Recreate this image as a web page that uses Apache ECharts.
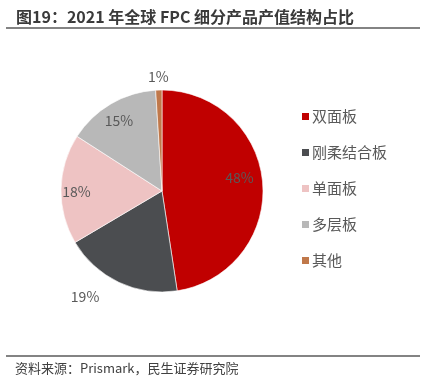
<!DOCTYPE html>
<html>
<head>
<meta charset="utf-8">
<script src="https://cdn.jsdelivr.net/npm/echarts@6/dist/echarts.min.js"></script>
<style>
html,body{margin:0;padding:0;background:#fff;}
#main{width:431px;height:384px;}
</style>
</head>
<body>
<div id="main"></div>
<script>
const titleText = '图19：2021 年全球 FPC 细分产品产值结构占比';
const sourceText = '资料来源：Prismark，民生证券研究院';
const categories = ['双面板', '刚柔结合板', '单面板', '多层板', '其他'];
const values = [47.6, 18.9, 17.6, 14.9, 1.0];
const colors = ['#C00000', '#4B4D50', '#EEC3C3', '#B8B8B8', '#C0784A'];
const labelOffsets = [[24, -9], [-54, 57], [-32, 2], [-16, -24], [-2, -61]];

const FONT = '"Noto Sans CJK SC", "Open Sans", sans-serif';
const chart = echarts.init(document.getElementById('main'), null, {renderer: 'canvas'});
const data = categories.map((c, i) => ({
  name: c,
  value: values[i],
  itemStyle: {color: colors[i]},
  label: {offset: labelOffsets[i]}
}));
chart.setOption({
  animation: false,
  backgroundColor: '#fff',
  title: {
    text: titleText,
    left: 11, top: 4,
    textStyle: {fontFamily: FONT, fontSize: 16, fontWeight: 'bold', color: '#3a3a3a'}
  },
  legend: {
    orient: 'vertical',
    left: 295, top: 104,
    icon: 'rect',
    itemWidth: 9, itemHeight: 9,
    itemGap: 21,
    textStyle: {fontFamily: FONT, fontSize: 15, color: '#595959', padding: [0, 0, 0, -3]},
    data: categories
  },
  graphic: [
    {type: 'line', shape: {x1: 6, y1: 28, x2: 420, y2: 28}, style: {stroke: '#5a5a5a', lineWidth: 1.5}},
    {type: 'line', shape: {x1: 6, y1: 356, x2: 420, y2: 356}, style: {stroke: '#5a5a5a', lineWidth: 1.5}},
    {type: 'text', left: 15, top: 362, style: {text: sourceText, font: '13px ' + FONT, fill: '#404040'}}
  ],
  series: [{
    type: 'pie',
    center: [162, 191],
    radius: [0, 101],
    startAngle: 90,
    clockwise: true,
    avoidLabelOverlap: false,
    itemStyle: {borderColor: '#fff', borderWidth: 0.6},
    label: {
      position: 'inside',
      fontFamily: FONT,
      fontSize: 14,
      color: '#595959',
      formatter: p => Math.round(p.value) + '%'
    },
    labelLine: {show: false},
    emphasis: {disabled: true},
    data: data
  }]
});
</script>
</body>
</html>
